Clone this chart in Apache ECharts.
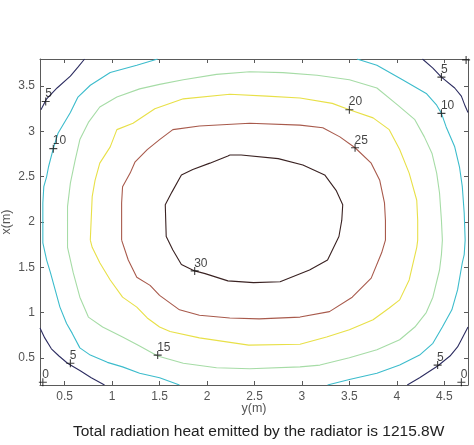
<!DOCTYPE html>
<html>
<head>
<meta charset="utf-8">
<script src="https://cdn.jsdelivr.net/npm/echarts@6/dist/echarts.min.js"></script>
<style>html,body{margin:0;padding:0;background:#fff}#c{width:474px;height:445px}</style>
</head>
<body>
<div id="c"></div>
<script>
// Axis ranges and ticks
const xRange = [0.24, 4.75];
const yRange = [0.2, 3.8];
const xTicks = [0.5, 1, 1.5, 2, 2.5, 3, 3.5, 4, 4.5];
const yTicks = [0.5, 1, 1.5, 2, 2.5, 3, 3.5];

// Contour levels and colours
const levels = [0, 5, 10, 15, 20, 25, 30];
const levelColors = {0:'#1a1a50', 5:'#2e2e62', 10:'#3cbccc', 15:'#a6dca6', 20:'#e8e048', 25:'#a85a4c', 30:'#3a2222'};

// Contour lines, [y(m), x(m)] pairs
const c5_tl = [[0.71,3.80],[0.64,3.71],[0.56,3.61],[0.42,3.48],[0.31,3.36],[0.25,3.24]];
const c5_tr = [[4.27,3.80],[4.38,3.70],[4.47,3.60],[4.61,3.48],[4.68,3.39],[4.72,3.28],[4.75,3.21]];
const c5_bl = [[0.24,0.83],[0.29,0.72],[0.36,0.60],[0.44,0.52],[0.53,0.44],[0.66,0.36],[0.78,0.28],[0.92,0.20]];
const c5_br = [[4.11,0.20],[4.24,0.28],[4.43,0.41],[4.56,0.52],[4.64,0.62],[4.69,0.72],[4.75,0.84]];

const c10_left = [[1.48,3.80],[1.26,3.73],[0.98,3.65],[0.77,3.51],[0.64,3.38],[0.56,3.21],[0.43,2.98],[0.38,2.81],
  [0.33,2.61],[0.31,2.50],[0.28,2.39],[0.27,2.21],[0.27,1.77],[0.31,1.58],[0.35,1.44],[0.40,1.25],[0.45,1.06],
  [0.52,0.88],[0.58,0.77],[0.66,0.61],[0.77,0.53],[0.95,0.45],[1.11,0.40],[1.29,0.33],[1.50,0.28],[1.71,0.20]];
const c10_right = [[3.58,3.80],[3.79,3.73],[4.06,3.57],[4.31,3.42],[4.42,3.29],[4.47,3.20],[4.52,3.05],[4.61,2.83],
  [4.66,2.61],[4.69,2.39],[4.71,2.10],[4.72,1.80],[4.71,1.64],[4.69,1.55],[4.64,1.25],[4.58,1.03],[4.48,0.84],
  [4.38,0.66],[4.24,0.53],[4.03,0.42],[3.79,0.33],[3.50,0.26],[3.27,0.20]];

const c15 = [[1.05,3.38],[1.29,3.47],[1.50,3.52],[1.75,3.57],[2.10,3.63],[2.45,3.66],[2.80,3.65],[3.16,3.62],
  [3.50,3.57],[3.79,3.48],[4.01,3.29],[4.19,3.13],[4.29,2.94],[4.37,2.76],[4.42,2.54],[4.45,2.32],[4.47,2.02],
  [4.48,1.80],[4.47,1.64],[4.45,1.47],[4.38,1.17],[4.31,1.00],[4.19,0.84],[4.03,0.70],[3.79,0.59],[3.50,0.50],
  [3.19,0.42],[2.98,0.40],[2.45,0.38],[2.10,0.39],[1.75,0.44],[1.48,0.52],[1.29,0.63],[1.11,0.73],[0.90,0.84],
  [0.75,0.95],[0.66,1.17],[0.59,1.44],[0.53,1.72],[0.53,2.17],[0.56,2.43],[0.61,2.68],[0.66,2.91],[0.75,3.10],
  [0.87,3.27],[1.05,3.38]];

const c20 = [[0.77,1.80],[0.79,2.28],[0.82,2.46],[0.87,2.65],[0.98,2.83],[1.05,3.02],[1.22,3.09],[1.45,3.25],
  [1.75,3.36],[2.24,3.41],[2.63,3.39],[2.98,3.37],[3.32,3.31],[3.50,3.24],[3.75,3.15],[3.92,3.02],[4.03,2.80],
  [4.13,2.54],[4.21,2.24],[4.22,2.02],[4.22,1.80],[4.21,1.72],[4.13,1.36],[4.03,1.14],[3.92,1.05],[3.75,0.92],
  [3.50,0.81],[3.26,0.73],[2.98,0.65],[2.44,0.64],[1.92,0.72],[1.61,0.79],[1.50,0.84],[1.37,0.94],[1.26,1.06],
  [1.11,1.17],[0.98,1.36],[0.87,1.55],[0.79,1.72],[0.77,1.80]];

const c25 = [[1.10,1.80],[1.10,2.21],[1.11,2.39],[1.19,2.54],[1.24,2.66],[1.37,2.80],[1.50,2.91],[1.64,3.02],
  [1.92,3.06],[2.45,3.09],[2.98,3.07],[3.22,3.04],[3.40,2.94],[3.56,2.82],[3.73,2.65],[3.82,2.46],[3.87,2.21],
  [3.88,2.02],[3.88,1.80],[3.84,1.66],[3.73,1.38],[3.53,1.17],[3.29,1.01],[2.98,0.95],[2.55,0.93],[2.24,0.94],
  [1.92,0.97],[1.71,1.03],[1.50,1.19],[1.40,1.30],[1.26,1.39],[1.17,1.58],[1.10,1.80]];

const c30 = [[2.24,2.74],[2.36,2.74],[2.75,2.70],[3.01,2.63],[3.24,2.52],[3.36,2.35],[3.43,2.19],[3.42,2.02],
  [3.39,1.84],[3.27,1.58],[3.08,1.47],[2.77,1.34],[2.49,1.33],[2.22,1.35],[1.98,1.43],[1.87,1.46],[1.73,1.53],
  [1.64,1.69],[1.57,1.84],[1.56,2.19],[1.63,2.33],[1.73,2.52],[1.85,2.58],[2.03,2.65],[2.22,2.73],[2.24,2.74]];

// Contour labels: [y, x, level, showText]
const contourLabels = [
  [0.30,3.33,5,1],[4.47,3.60,5,1],[0.56,0.44,5,1],[4.43,0.42,5,1],
  [0.38,2.81,10,1],[4.47,3.20,10,1],
  [1.48,0.53,15,1],
  [3.50,3.24,20,1],
  [3.56,2.82,25,1],
  [1.87,1.46,30,1],
  [0.27,0.23,0,1],[4.68,0.23,0,1],[4.73,3.79,0,0]
];

const caption = 'Total radiation heat emitted by the radiator is 1215.8W';

const lines = [
  [5, c5_tl],[5, c5_tr],[5, c5_bl],[5, c5_br],
  [10, c10_left],[10, c10_right],
  [15, c15],[20, c20],[25, c25],[30, c30]
];

const frame = '#5a5a5a';
const series = lines.map(([lv, pts]) => ({
  type: 'line', data: pts, showSymbol: false, smooth: false, silent: true,
  lineStyle: {color: levelColors[lv], width: 1.1}, z: 2
}));
series.push({
  type: 'scatter',
  data: contourLabels.map(d => ({value: [d[0], d[1], d[2]], label: {show: !!d[3]}})),
  symbol: 'path://M0,5L10,5M5,0L5,10',
  symbolSize: 8,
  itemStyle: {color: 'rgba(0,0,0,0)', borderColor: '#111', borderWidth: 1.1},
  label: {show: true, formatter: p => String(p.value[2]), position: [4, -9],
    color: '#111', fontSize: 12, fontFamily: 'Liberation Sans, Arial, sans-serif', align: 'left', verticalAlign: 'top'},
  z: 5, silent: true
});

const tickCommon = {show: true, inside: true, length: 4, lineStyle: {color: frame}};
const chart = echarts.init(document.getElementById('c'), null, {renderer: 'canvas'});
chart.setOption({
  animation: false,
  backgroundColor: '#fff',
  grid: {left: 40, right: 6, top: 59, bottom: 60, containLabel: false, outerBoundsMode: 'none'},
  xAxis: [{
    type: 'value', min: xRange[0], max: xRange[1], position: 'bottom',
    name: 'y(m)', nameLocation: 'middle', nameGap: 17, nameMoveOverlap: false,
    nameTextStyle: {color: '#555', fontSize: 12.5, fontFamily: 'Liberation Sans, Arial, sans-serif'},
    axisLine: {show: true, lineStyle: {color: frame}},
    axisTick: Object.assign({customValues: xTicks}, tickCommon),
    axisLabel: {customValues: xTicks, color: '#555', fontSize: 12, margin: 6, fontFamily: 'Liberation Sans, Arial, sans-serif'},
    splitLine: {show: false}
  }, {
    type: 'value', min: xRange[0], max: xRange[1], position: 'top',
    axisLine: {show: true, lineStyle: {color: frame}},
    axisTick: Object.assign({customValues: xTicks}, tickCommon),
    axisLabel: {show: false}, splitLine: {show: false}
  }],
  yAxis: [{
    type: 'value', min: yRange[0], max: yRange[1], position: 'left',
    name: 'x(m)', nameLocation: 'middle', nameGap: 27, nameRotate: 90, nameMoveOverlap: false,
    nameTextStyle: {color: '#555', fontSize: 12.5, fontFamily: 'Liberation Sans, Arial, sans-serif'},
    axisLine: {show: true, lineStyle: {color: frame}},
    axisTick: Object.assign({customValues: yTicks}, tickCommon),
    axisLabel: {customValues: yTicks, color: '#555', fontSize: 12, margin: 5, fontFamily: 'Liberation Sans, Arial, sans-serif'},
    splitLine: {show: false}
  }, {
    type: 'value', min: yRange[0], max: yRange[1], position: 'right',
    axisLine: {show: true, lineStyle: {color: frame}},
    axisTick: Object.assign({customValues: yTicks}, tickCommon),
    axisLabel: {show: false}, splitLine: {show: false}
  }],
  graphic: [{
    type: 'text', left: 73, top: 424,
    style: {text: caption, fill: '#222', font: '15.5px "Liberation Sans", Arial, sans-serif'}
  }],
  series: series
});
</script>
</body>
</html>
